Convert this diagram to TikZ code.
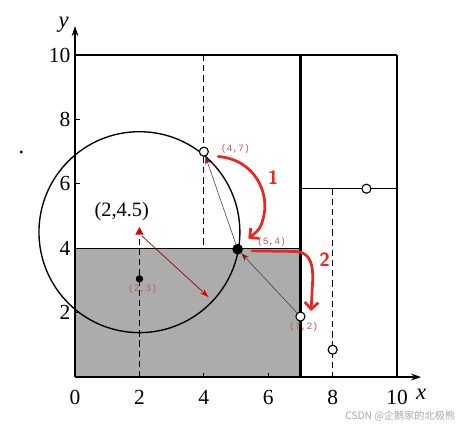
\documentclass[tikz,border=0pt]{standalone}
\usepackage{fontspec}
\setmainfont{Liberation Serif}
\newfontfamily\cjk{Noto Sans CJK SC}
\newfontfamily\monof{Liberation Mono}
\usetikzlibrary{arrows.meta}
\definecolor{handred}{RGB}{232,40,30}
\definecolor{labred}{RGB}{185,95,85}
\definecolor{tipred}{RGB}{140,20,20}
\definecolor{shadegray}{RGB}{172,172,172}
\begin{document}
\begin{tikzpicture}[
  frame/.style={line width=1.1pt},
  thickframe/.style={line width=2pt},
  dashln/.style={line width=1pt, dash pattern=on 5.5pt off 3.5pt},
  ticklab/.style={font=\fontsize{19}{22}\selectfont},
  axlab/.style={font=\fontsize{20}{22}\selectfont\itshape},
  small/.style={font=\monof\fontsize{8.5}{10}\selectfont, text=labred},
  hand/.style={draw=handred, line width=2.4pt, line cap=round, line join=round},
  handtext/.style={font=\fontsize{17}{20}\selectfont\sffamily\bfseries, text=handred},
  opendot/.style={circle, draw, line width=1pt, fill=white, inner sep=0pt, minimum size=8pt},
  fulldot/.style={circle, fill=black, inner sep=0pt, minimum size=9.5pt},
  smalldot/.style={circle, fill=black, inner sep=0pt, minimum size=6.5pt},
  thinarrow/.style={draw=black!75, line width=0.5pt, -{Stealth[length=7pt,width=5pt,color=tipred]}},
]
\useasboundingbox (-2.33,-1.49) rectangle (12.39,11.71);

% shaded region
\fill[shadegray] (0,0) rectangle (7,4);
\draw[frame] (0,4) -- (7,4);

% frame lines
\draw[frame] (0,10) -- (10,10);
\draw[thickframe] (7,10) -- (7,0);
\draw[frame] (10,10) -- (10,0);
\draw[frame] (7,5.85) -- (10,5.85);

% dashed lines
\draw[dashln] (4,10) -- (4,4);
\draw[dashln] (2,4.3) -- (2,0);
\draw[dashln] (8,5.85) -- (8,0);

% axes
\draw[frame, -{Stealth[length=9pt,width=6pt]}] (0,0) -- (0,10.9);
\draw[frame, -{Stealth[length=9pt,width=6pt]}] (0,0) -- (10.75,0);
\foreach \t in {2,4,6,8} {
  \draw[frame] (0,\t) -- (0.15,\t);
  \draw[frame] (\t,0) -- (\t,0.13);
}

% tick labels
\node[ticklab, anchor=east] (ly10) at (-0.02,10) {10};
\node[ticklab, anchor=east] (ly8) at (-0.02,8) {8};
\node[ticklab, anchor=east] (ly6) at (-0.02,6) {6};
\node[ticklab, anchor=east] (ly4) at (-0.02,4) {4};
\node[ticklab, anchor=east] (ly2) at (-0.02,2) {2};
\node[ticklab] (lx0) at (0,-0.62) {0};
\node[ticklab] (lx2) at (2,-0.62) {2};
\node[ticklab] (lx4) at (4,-0.62) {4};
\node[ticklab] (lx6) at (6,-0.62) {6};
\node[ticklab] (lx8) at (8,-0.62) {8};
\node[ticklab] (lx10) at (10,-0.62) {10};
\node[axlab] (ylab) at (-0.35,10.95) {y};
\node[axlab] (xlab) at (10.75,-0.55) {x};

% circle
\draw[line width=1.2pt] (2,4.5) circle (3.12);

% points
\node[opendot] (p47) at (4,7) {};
\node[fulldot] (p54) at (5.05,3.97) {};
\node[opendot] (p72) at (7,1.88) {};
\node[opendot] (p81) at (8,0.85) {};
\node[opendot] (p96) at (9.05,5.85) {};
\node[smalldot] (p23) at (2,3.05) {};
\coordinate (c245) at (2,4.5);
\coordinate (q) at (4.15,2.48);

% small red labels
\node[small] (t47) at (4.98,7.07) {(4,7)};
\node[small] (t54) at (6.1,4.18) {(5,4)};
\node[small] (t72) at (7.1,1.57) {(7,2)};
\node[small] (t23) at (2.1,2.72) {(2,3)};

% center label
\node[font=\fontsize{18}{20}\selectfont] (t245) at (1.45,5.15) {(2,4.5)};

% thin arrows
\draw[thinarrow] (p54) -- (p47);
\draw[thinarrow] (p72) -- (p54);
\fill[red!85!black] (2,4.66) -- (1.87,4.42) -- (2.13,4.42) -- cycle;
\draw[draw=red!55!black, line width=0.6pt, -{Stealth[length=8pt,width=5pt,color=red!90!black]}] (2.08,4.38) -- (q);

% hand-drawn red arrows
\coordinate (h1s) at (4.45,6.85);
\coordinate (h1e) at (5.38,4.3);
\draw[hand, -{Straight Barb[length=6pt,width=12pt]}] (h1s) .. controls (5.6,6.75) and (6.05,5.7) .. (5.85,4.95) .. controls (5.75,4.6) .. (h1e);
\coordinate (h2s) at (5.5,3.92);
\coordinate (h2e) at (7.33,2.05);
\draw[hand, -{Straight Barb[length=6pt,width=12pt]}] (h2s) -- (6.85,3.9) .. controls (7.3,3.88) and (7.4,3.5) .. (7.38,3.0) -- (h2e);
\node[handtext] (n1) at (6.15,6.2) {1};
\node[handtext] (n2) at (7.75,3.65) {2};

% speck
\fill (-1.67,6.99) circle (0.05);

% watermark
\node[font=\cjk\fontsize{9}{10}\selectfont, text=black!35] (wm) at (10.1,-1.2) {CSDN @企鹅家的北极熊};
\end{tikzpicture}
\end{document}
